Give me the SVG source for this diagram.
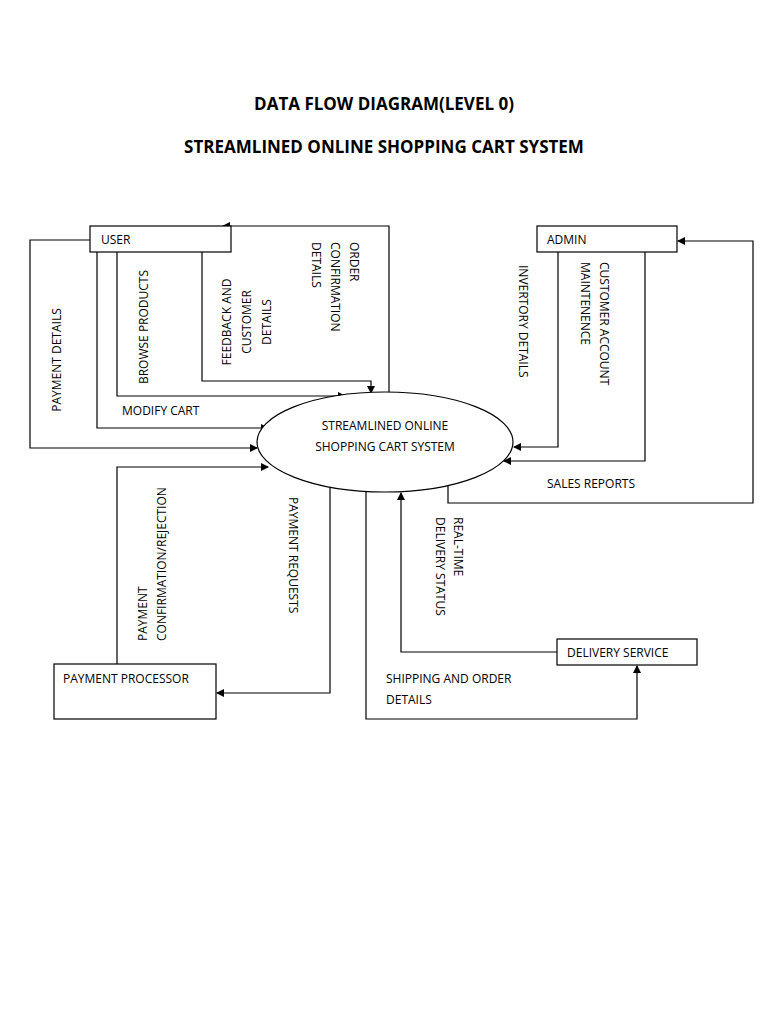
<svg xmlns="http://www.w3.org/2000/svg" width="768" height="1024" viewBox="0 0 768 1024">
<defs>
<marker id="a" markerWidth="8" markerHeight="8" refX="7" refY="4" orient="auto" markerUnits="userSpaceOnUse"><path d="M0,0 L8,4 L0,8 z" fill="#000"/></marker>
<style>
.n{fill:#fff;stroke:#000;stroke-width:1.2}
.c{fill:none;stroke:#000;stroke-width:1.2;marker-end:url(#a)}
.l{fill:none;stroke:#000;stroke-width:1.2}
text{font-family:"Open Sans","Liberation Sans",sans-serif;font-size:12px;fill:#000}
.t{font-size:17px;font-weight:bold;text-anchor:middle}
.v{dominant-baseline:central}
</style>
</defs>
<rect width="768" height="1024" fill="#fff"/>
<text class="t" x="384" y="110">DATA FLOW DIAGRAM(LEVEL 0)</text>
<text class="t" x="384" y="153">STREAMLINED ONLINE SHOPPING CART SYSTEM</text>
<g id="connectors">
<path class="c" d="M389,397 V226 H223"/>
<path class="c" d="M202,252 V381 H371 V393"/>
<path class="c" d="M117,252 V396 H345"/>
<path class="c" d="M97,252 V428 H268"/>
<path class="c" d="M90,240 H30 V448 H257"/>
<path class="c" d="M117,664 V467 H268"/>
<path class="c" d="M330,485 V693 H217"/>
<path class="c" d="M366,491 V719 H637 V666"/>
<path class="c" d="M557,652 H401 V493"/>
<path class="c" d="M558,252 V447 H514"/>
<path class="c" d="M645,252 V461 H504"/>
<path class="c" d="M448,486 V503 H753 V241 H678"/>
</g>
<g id="process"><ellipse class="n" cx="385" cy="442" rx="128" ry="50"/>
<text x="385" y="430" text-anchor="middle">STREAMLINED ONLINE</text>
<text x="385" y="451" text-anchor="middle">SHOPPING CART SYSTEM</text></g>
<g id="user"><rect class="n" x="90" y="226" width="141" height="26"/><text x="101" y="244">USER</text></g>
<g id="admin"><rect class="n" x="537" y="226" width="140" height="26"/><text x="547" y="244">ADMIN</text></g>
<g id="payment"><rect class="n" x="54" y="664" width="162" height="55"/><text x="63" y="683">PAYMENT PROCESSOR</text></g>
<g id="delivery"><rect class="n" x="557" y="639" width="140" height="26"/><text x="567" y="657">DELIVERY SERVICE</text></g>
<g id="labels">
<text class="v" transform="translate(56,360) rotate(-90)" text-anchor="middle">PAYMENT DETAILS</text>
<text class="v" transform="translate(143,327) rotate(-90)" text-anchor="middle">BROWSE PRODUCTS</text>
<text class="v" transform="translate(226,322) rotate(-90)" text-anchor="middle">FEEDBACK AND</text>
<text class="v" transform="translate(246,322) rotate(-90)" text-anchor="middle">CUSTOMER</text>
<text class="v" transform="translate(266,322) rotate(-90)" text-anchor="middle">DETAILS</text>
<text class="v" transform="translate(354,242) rotate(90)">ORDER</text>
<text class="v" transform="translate(335,242) rotate(90)">CONFIRMATION</text>
<text class="v" transform="translate(316,242) rotate(90)">DETAILS</text>
<text class="v" transform="translate(523,265) rotate(90)">INVERTORY DETAILS</text>
<text class="v" transform="translate(604,262) rotate(90)">CUSTOMER ACCOUNT</text>
<text class="v" transform="translate(585,262) rotate(90)">MAINTENENCE</text>
<text class="v" transform="translate(142,641) rotate(-90)">PAYMENT</text>
<text class="v" transform="translate(161,641) rotate(-90)">CONFIRMATION/REJECTION</text>
<text class="v" transform="translate(293,497) rotate(90)">PAYMENT REQUESTS</text>
<text class="v" transform="translate(458,517) rotate(90)">REAL-TIME</text>
<text class="v" transform="translate(440,517) rotate(90)">DELIVERY STATUS</text>
<text x="122" y="415">MODIFY CART</text>
<text x="547" y="488">SALES REPORTS</text>
<text x="386" y="683">SHIPPING AND ORDER</text>
<text x="386" y="704">DETAILS</text>
</g>
</svg>
